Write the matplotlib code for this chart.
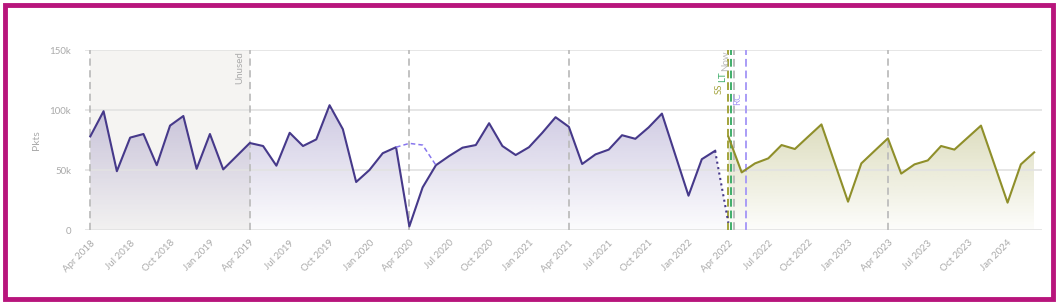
import matplotlib
matplotlib.use("Agg")
import matplotlib.pyplot as plt
from matplotlib.colors import to_rgb
from matplotlib.patches import Rectangle
import numpy as np

plt.rcParams['font.family'] = ['Lato', 'DejaVu Sans']

# months counted from Apr 2018 (index 0)
actual_pkts = [78, 99, 49, 77, 80, 54, 87, 95, 51,
               80, 50.5, 61.5, 72.5, 70, 53.6, 81, 70, 75.5, 104, 84, 40,
               50, 64, 69, 3, 35.5, 54, 61.7, 68.6, 70.8, 89, 70, 62.5,
               69, 81, 94, 86, 55, 63, 67, 79, 76, 85.5, 97, 62.8,
               28.6, 59, 66, 6]
adjusted_months = [23, 24, 25, 26]
adjusted_pkts = [69, 72.2, 70.8, 54]
forecast_start = 48
forecast_pkts = [77.8, 48, 55.5, 59.7, 70.8, 67.5, 77.8, 88, 55.8,
                 23.6, 55.5, 66, 76.4, 47, 54.7, 58, 70, 67, 77, 87, 55,
                 22.8, 54.7, 64.7]

year_marks = [0, 12, 24, 36, 60]
event_marks = {"SS": 47.95, "LT": 48.2, "Now": 48.45, "RC": 49.35}
event_colors = {"SS": "#a3a33c", "LT": "#3fae6a", "Now": "#bcbcbc", "RC": "#a99cf6"}
event_label_top = {"SS": 122, "LT": 132, "Now": 150, "RC": 115}

tick_months = list(range(0, 70, 3))
month_names = ["Jan", "Apr", "Jul", "Oct"]


def tick_label(m):
    month = (3 + m) % 12
    year = 2018 + (3 + m) // 12
    return "{} {}".format(month_names[month // 3], year)


def gradient_fill(ax, xs, ys, color, top_alpha, bottom_alpha):
    poly = ax.fill_between(xs, ys, 0, facecolor='none', edgecolor='none')
    ytop = max(ys)
    rgb = to_rgb(color)
    grad = np.zeros((100, 1, 4))
    grad[:, :, :3] = rgb
    grad[:, 0, 3] = np.linspace(top_alpha, bottom_alpha, 100)
    im = ax.imshow(grad, aspect='auto', origin='upper',
                   extent=[min(xs), max(xs), 0, ytop], zorder=1)
    im.set_clip_path(poly.get_paths()[0], transform=ax.transData)


fig = plt.figure(figsize=(10.58, 3.04), dpi=100)
ax = fig.add_axes([0.0803, 0.2434, 0.9047, 0.5921])

xa = np.arange(len(actual_pkts))
xf = np.arange(forecast_start, forecast_start + len(forecast_pkts))

# unused region
ax.axvspan(0, 12, color='#f5f4f2', zorder=0, lw=0)

gradient_fill(ax, xa, actual_pkts, '#5b4b9e', 0.30, 0.02)
gradient_fill(ax, xf, forecast_pkts, '#8f8f2a', 0.30, 0.02)

for v in [0, 50, 100, 150]:
    ax.axhline(v, color='#e2e2e2', lw=1.2, zorder=2)

for m in year_marks:
    ax.axvline(m, color='#bdbdbd', lw=1.3, ls=(0, (4, 2.5)), zorder=3)
ax.text(11.6, 149, "Unused", rotation=90, ha='right', va='top',
        fontsize=7, color='#aaaaaa')

for name, m in event_marks.items():
    ax.axvline(m, color=event_colors[name], lw=1.4, ls=(0, (4, 2)), zorder=3)
    ax.text(m - 0.3, event_label_top[name], name, rotation=90, ha='right',
            va='top', fontsize=7, color=event_colors[name])

ax.plot(xa[:-1], actual_pkts[:-1], color='#46398a', lw=1.5, zorder=4)
ax.plot(xa[-2:], actual_pkts[-2:], color='#46398a', lw=1.5, ls=':', zorder=4)
ax.plot(adjusted_months, adjusted_pkts, color='#8877ee', lw=1.1,
        ls=(0, (3, 2)), zorder=4)
ax.plot(xf, forecast_pkts, color='#8f8f2a', lw=1.5, zorder=4)

ax.set_xlim(-0.4, 71.6)
ax.set_ylim(0, 150)
ax.set_yticks([0, 50, 100, 150])
ax.set_yticklabels(["0", "50k", "100k", "150k"])
ax.set_xticks(tick_months)
ax.set_xticklabels([tick_label(m) for m in tick_months], rotation=45,
                   ha='right', va='top', rotation_mode='anchor')
ax.tick_params(length=0, labelsize=7, labelcolor='#aaaaaa', pad=6)
ax.tick_params(axis='y', pad=10)
for sp in ax.spines.values():
    sp.set_visible(False)
ax.set_ylabel("Pkts", fontsize=7.5, color='#aaaaaa', labelpad=6)

fig.patches.append(Rectangle((5 / 1058, 5 / 304), 1 - 10 / 1058, 1 - 10 / 304,
                             transform=fig.transFigure, fill=False,
                             edgecolor='#b8157c', lw=3.5))

fig.savefig("out.png", dpi=100)
